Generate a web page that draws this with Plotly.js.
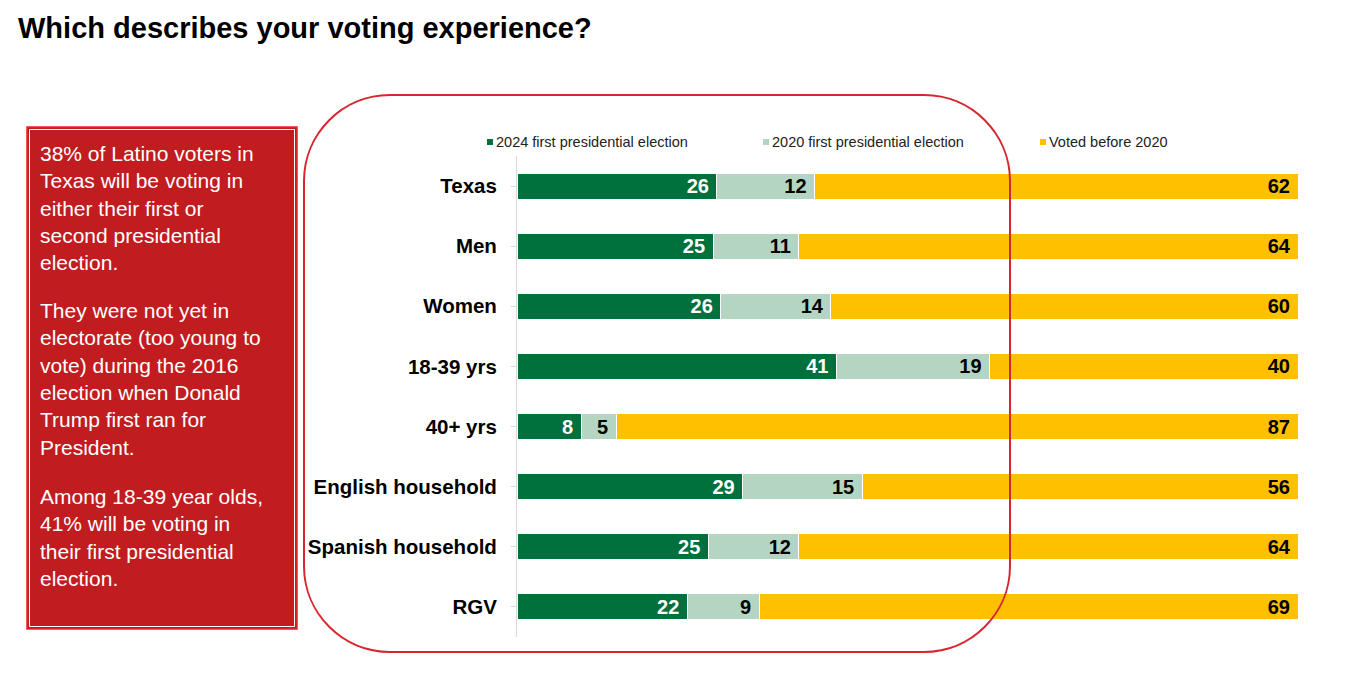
<!DOCTYPE html>
<html>
<head>
<meta charset="utf-8">
<script src="https://cdn.plot.ly/plotly-3.0.1.min.js"></script>
<style>
	html, body { margin: 0; padding: 0; background: #FFFFFF; }
	#chart { width: 1366px; height: 681px; }
</style>
</head>
<body>
<div id="chart"></div>
<script>
// categories, top to bottom
const categories = ['Texas', 'Men', 'Women', '18-39 yrs', '40+ yrs', 'English household', 'Spanish household', 'RGV'];

// bar lengths (percent)
const first2024 = [25.6, 25.1, 26.1, 40.9, 8.2, 28.9, 24.5, 21.8];
const first2020 = [12.5, 11.0, 14.1, 19.6, 4.5, 15.3, 11.6, 9.2];
const before2020 = [61.9, 63.9, 59.8, 39.5, 87.3, 55.8, 63.9, 69.0];

// values printed on the bars
const labels2024 = [26, 25, 26, 41, 8, 29, 25, 22];
const labels2020 = [12, 11, 14, 19, 5, 15, 12, 9];
const labelsBefore = [62, 64, 60, 40, 87, 56, 64, 69];

const seriesNames = ['2024 first presidential election', '2020 first presidential election', 'Voted before 2020'];
const seriesColors = ['#00703C', '#B5D5C3', '#FFC000'];
const labelColors = ['#FFFFFF', '#000000', '#000000'];

// side note, one list per paragraph
const note1 = ['38% of Latino voters in', 'Texas will be voting in', 'either their first or', 'second presidential', 'election.'];
const note2 = ['They were not yet in', 'electorate (too young to', 'vote) during the 2016', 'election when Donald', 'Trump first ran for', 'President.'];
const note3 = ['Among 18-39 year olds,', '41% will be voting in', 'their first presidential', 'election.'];

const W = 1366, H = 681;
const M = { l: 517, r: 68, t: 156, b: 44 };
const FONT = 'Arial, "Liberation Sans", sans-serif';

// pixel -> paper helpers
const px = x => (x - M.l) / (W - M.l - M.r);
const py = y => (H - M.b - y) / (H - M.t - M.b);

function roundRect(x0, y0, x1, y1, r) {
	const k = r * 0.5523;
	const p = (x, y) => px(x) + ',' + py(y);
	return 'M' + p(x0 + r, y0) +
		' L' + p(x1 - r, y0) +
		' C' + p(x1 - r + k, y0) + ' ' + p(x1, y0 + r - k) + ' ' + p(x1, y0 + r) +
		' L' + p(x1, y1 - r) +
		' C' + p(x1, y1 - r + k) + ' ' + p(x1 - r + k, y1) + ' ' + p(x1 - r, y1) +
		' L' + p(x0 + r, y1) +
		' C' + p(x0 + r - k, y1) + ' ' + p(x0, y1 - r + k) + ' ' + p(x0, y1 - r) +
		' L' + p(x0, y0 + r) +
		' C' + p(x0, y0 + r - k) + ' ' + p(x0 + r - k, y0) + ' ' + p(x0 + r, y0) + ' Z';
}

const values = [first2024, first2020, before2020];
const labels = [labels2024, labels2020, labelsBefore];

const data = values.map((vals, i) => ({
	type: 'bar',
	orientation: 'h',
	name: seriesNames[i],
	y: categories,
	x: vals,
	text: labels[i].map(v => v + '\u2005'),
	textposition: 'inside',
	insidetextanchor: 'end',
	constraintext: 'none',
	textangle: 0,
	textfont: { family: FONT, size: 20, weight: 'bold', color: labelColors[i] },
	marker: { color: seriesColors[i], line: { color: '#FFFFFF', width: 1 } },
	hoverinfo: 'skip',
	showlegend: false,
}));

const shapes = [
	{ type: 'rect', xref: 'paper', yref: 'paper', layer: 'below',
		x0: px(27), x1: px(297), y0: py(127), y1: py(629),
		fillcolor: '#C11C1F', line: { color: '#E3242B', width: 1.5 } },
	{ type: 'rect', xref: 'paper', yref: 'paper', layer: 'below',
		x0: px(29.5), x1: px(294.5), y0: py(129.5), y1: py(626.5),
		line: { color: '#FFFFFF', width: 1 } },
	{ type: 'path', xref: 'paper', yref: 'paper', layer: 'above',
		path: roundRect(304, 95, 1010, 652, 86),
		line: { color: '#D7262E', width: 2 } },
];
const annotations = [
	{ xref: 'paper', yref: 'paper', x: px(16), y: py(28), xanchor: 'left', yanchor: 'middle',
		text: '<b>Which describes your voting experience?</b>', showarrow: false,
		font: { family: FONT, size: 29, color: '#000000' } },
];

// note paragraphs, centred on their measured line positions
[[note1, 155, 260], [note2, 313, 445], [note3, 498, 577]].forEach(([lines, top, bottom]) => {
	annotations.push({ xref: 'paper', yref: 'paper', x: px(38), y: py((top + bottom) / 2),
		xanchor: 'left', yanchor: 'middle', align: 'left', text: lines.join('<br>'),
		showarrow: false, font: { family: FONT, size: 21, color: '#FFFFFF' } });
});

// hand-made legend: small squares + labels
const legendX = [487, 763, 1040];
legendX.forEach((lx, i) => {
	shapes.push({ type: 'rect', xref: 'paper', yref: 'paper',
		x0: px(lx), x1: px(lx + 6), y0: py(139), y1: py(145),
		fillcolor: seriesColors[i], line: { width: 0 } });
	annotations.push({ xref: 'paper', yref: 'paper', x: px(lx + 7), y: py(142),
		xanchor: 'left', yanchor: 'middle', text: seriesNames[i], showarrow: false,
		font: { family: FONT, size: 14.5, color: '#222222' } });
});

const layout = {
	width: W,
	height: H,
	margin: M,
	barmode: 'stack',
	bargap: 0.567,
	paper_bgcolor: '#FFFFFF',
	plot_bgcolor: '#FFFFFF',
	xaxis: { range: [0, 100], visible: false, fixedrange: true },
	yaxis: {
		type: 'category',
		autorange: 'reversed',
		showline: true,
		linecolor: '#D9D9D9',
		linewidth: 1,
		ticks: 'outside',
		ticklen: 5,
		tickcolor: '#D9D9D9',
		ticklabelstandoff: 10,
		showgrid: false,
		zeroline: false,
		tickfont: { family: FONT, size: 20.5, weight: 'bold', color: '#000000' },
		fixedrange: true,
	},
	shapes: shapes,
	annotations: annotations,
	showlegend: false,
};

Plotly.newPlot('chart', data, layout, { displayModeBar: false, staticPlot: true });
</script>
</body>
</html>
